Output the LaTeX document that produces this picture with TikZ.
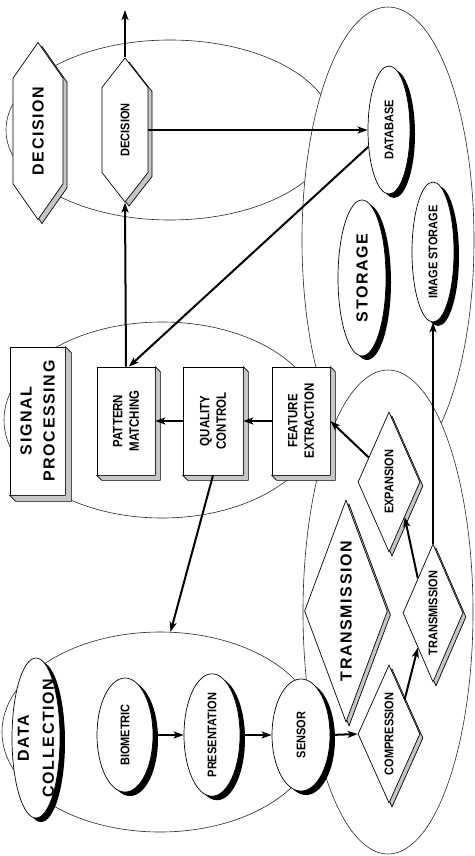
\documentclass[tikz,border=0pt]{standalone}
\usepackage{fontspec}
\setmainfont{Liberation Sans}
\newfontfamily\tagfont{Liberation Sans}[FakeStretch=0.88]
\newfontfamily\blockfont{Liberation Sans}[FakeStretch=0.85]
\newfontfamily\titlefont{Liberation Sans}[LetterSpace=10]
\usetikzlibrary{arrows.meta,shapes.geometric,shapes.symbols,calc}

\tikzset{
  grp/.style={draw=black!85, line width=0.6pt, fill=white, ellipse, inner sep=0pt},
  oval/.style={draw, line width=0.7pt, fill=white, ellipse, rotate=90, inner sep=1pt,
    preaction={fill=black, transform canvas={xshift=5pt,yshift=-4pt}}},
  blk/.style={draw, line width=0.7pt, fill=white, rectangle, rotate=90, align=center, inner sep=1pt},
  gem/.style={draw, line width=0.7pt, fill=white, diamond, aspect=2.2, rotate=90, inner sep=1pt,
    preaction={draw, line width=0.7pt, fill=gray!45, transform canvas={xshift=3pt,yshift=-4pt}}},
  hexa/.style={draw, line width=0.7pt, fill=white, signal, signal to=east and west, rotate=90, inner sep=1pt,
    preaction={draw, line width=0.7pt, fill=gray!45, transform canvas={xshift=4pt,yshift=-4pt}}},
  conn/.style={line width=2pt, -{Stealth[length=10pt,width=7pt,inset=2.5pt]}},
  tagtext/.style={font=\tagfont\bfseries\fontsize{12.5pt}{15pt}\selectfont},
  blocktext/.style={font=\blockfont\bfseries\fontsize{13.5pt}{16.5pt}\selectfont},
  titletext/.style={font=\titlefont\bfseries\fontsize{16pt}{23pt}\selectfont, align=center}
}

% extruded side of a block
\newcommand{\blockdepth}[2]{%
  \draw[line width=0.7pt, fill=gray!45] (#1.south east) -- ++(#2,#2) |- ($(#1.north west)+(#2,#2)$) -- (#1.north west) -- (#1.south west) -- cycle;}

\begin{document}
\begin{tikzpicture}[x=1pt,y=1pt,yscale=-1]
\useasboundingbox (0,0) rectangle (474,856);

% group ellipses
\node[grp, minimum width=328pt, minimum height=180pt] (decgrp) at (170,130) {};
\node[grp, minimum width=316pt, minimum height=196pt] (spgrp) at (162,420) {};
\node[grp, minimum width=316pt, minimum height=200pt] (dcgrp) at (160,732) {};
\node[grp, minimum width=172pt, minimum height=466pt] (stgrp) at (388,240) {};
\node[grp, minimum width=170pt, minimum height=484pt] (trgrp) at (388,612) {};

% group titles
\node[hexa, titletext, signal pointer angle=70, minimum width=177pt, minimum height=50pt] (declabel) at (38,131) {DECISION};
\node[blk, titletext, minimum width=148pt, minimum height=55pt] (splabel) at (37.5,421) {SIGNAL\\PROCESSING};
\node[oval, minimum width=160pt, minimum height=48pt] (dclabel) at (36,738) {};
\node[titletext, rotate=90] (dctext) at (dclabel) {DATA\\[2pt]COLLECTION};
\node[oval, titletext, minimum width=156pt, minimum height=48pt] (stlabel) at (362,278) {STORAGE};
\node[gem, titletext, minimum width=222pt, minimum height=83pt] (txlabel) at (346,611) {TRANSMISSION};

% stages
\node[hexa, tagtext, signal pointer angle=76, minimum width=144pt, minimum height=46pt] (dec) at (125,130) {DECISION};
\node[oval, tagtext, minimum width=128pt, minimum height=42pt] (db) at (389,130) {DATABASE};
\node[oval, tagtext, minimum width=140pt, minimum height=42pt] (imgst) at (433,252) {IMAGE STORAGE};
\node[blk, blocktext, minimum width=108pt, minimum height=58pt] (pm) at (126,421) {PATTERN\\MATCHING};
\node[blk, blocktext, minimum width=108pt, minimum height=60pt] (qc) at (213,421) {QUALITY\\CONTROL};
\node[blk, blocktext, minimum width=108pt, minimum height=58pt] (fe) at (301,421) {FEATURE\\EXTRACTION};
\foreach \b/\d in {splabel/6, pm/5, qc/5, fe/5}
  \blockdepth{\b}{\d};
\node[oval, tagtext, minimum width=114pt, minimum height=56pt] (bio) at (125,735) {BIOMETRIC};
\node[oval, tagtext, minimum width=114pt, minimum height=56pt] (pres) at (212,735) {PRESENTATION};
\node[oval, tagtext, minimum width=112pt, minimum height=58pt] (sen) at (301,735) {SENSOR};
\node[gem, tagtext, minimum width=138pt, minimum height=62pt] (comp) at (389,734) {COMPRESSION};
\node[gem, tagtext, minimum width=138pt, minimum height=60pt] (tx) at (433,613) {TRANSMISSION};
\node[gem, tagtext, minimum width=140pt, minimum height=62pt] (expn) at (389,482) {EXPANSION};

% connectors
\coordinate (out) at (125,10);
\draw[conn] (dec.east) -- (out);
\draw[conn] (pm.east) -- (dec.west);
\draw[conn] (dec.south) -- (db.north);
\draw[conn] (db.129) -- (pm.-3);
\draw[conn] (fe.north) -- (qc.south);
\draw[conn] (qc.north) -- (pm.south);
\draw[conn] (qc.west) -- (dcgrp.84);
\draw[conn] (bio.south) -- (pres.north);
\draw[conn] (pres.south) -- (sen.north);
\draw[conn] (sen.south) -- (comp.north);
\draw[conn] (comp.south east) -- (tx.north west);
\draw[conn] (tx.north east) -- (expn.south west);
\draw[conn] ($(expn.north)!0.35!(expn.east)$) -- (fe.south);
\draw[conn] (tx.east) -- (imgst.west);
\end{tikzpicture}
\end{document}
